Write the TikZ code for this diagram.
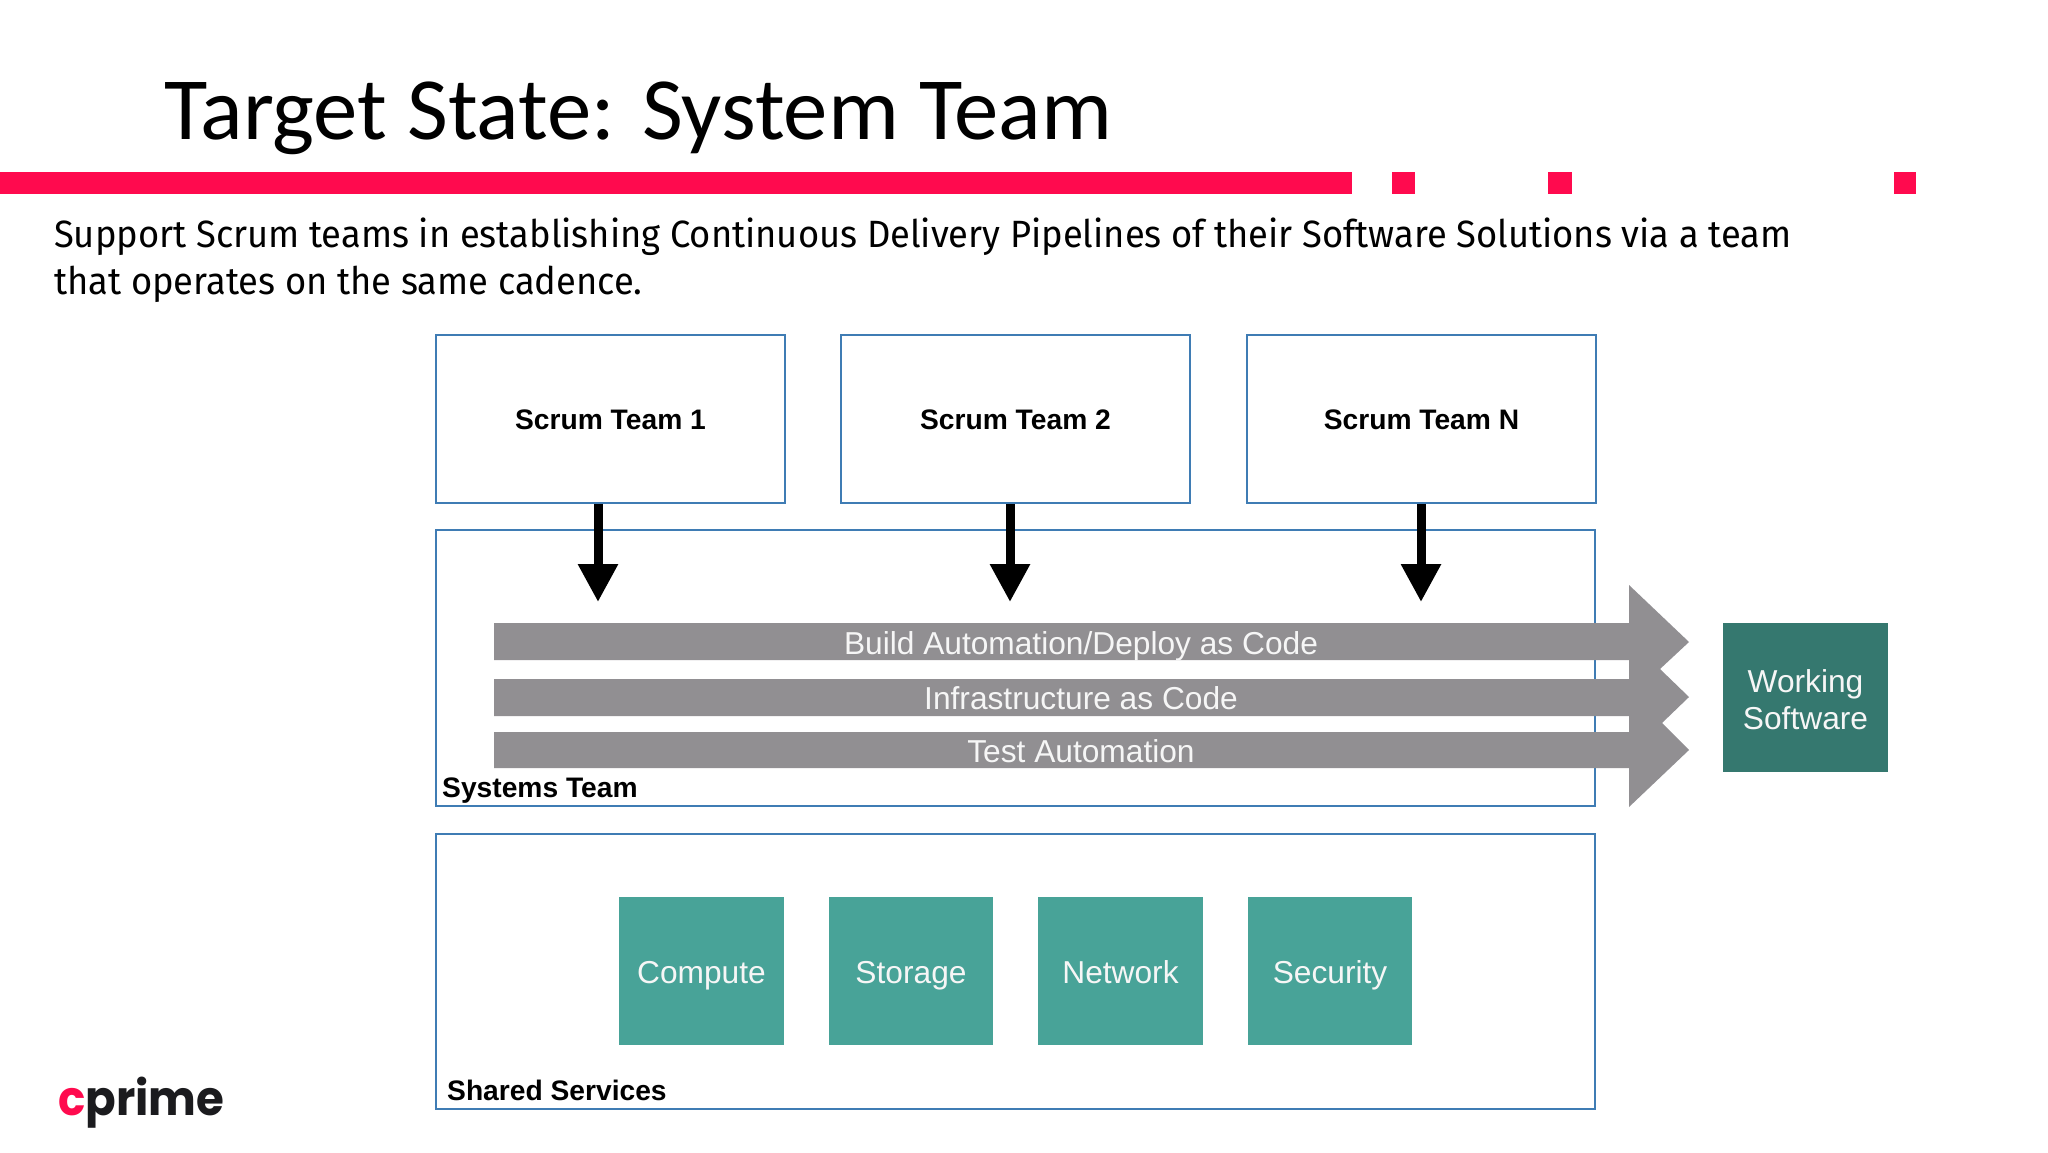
\documentclass[tikz,border=0pt]{standalone}
\usepackage{fontspec}
\usetikzlibrary{arrows.meta}
\setmainfont{Liberation Sans}
\newfontfamily\titlef{Carlito}
\newfontfamily\bodyf[FakeStretch=0.956]{Fira Sans}
\newfontfamily\logof[FakeStretch=0.94]{Poppins}
\definecolor{redbar}{HTML}{FF0A4E}
\definecolor{boxblue}{HTML}{3F7CB4}
\definecolor{arrowgray}{HTML}{918F92}
\definecolor{tealbox}{HTML}{48A398}
\definecolor{darkteal}{HTML}{35786F}
\definecolor{logoblack}{HTML}{1B1B1E}
\definecolor{labelwhite}{HTML}{F6F6F6}
\tikzset{
  teambox/.style={draw=boxblue,line width=1.8pt,fill=white,minimum width=349pt,minimum height=168pt,inner sep=0pt,font=\bfseries\fontsize{28.2}{32}\selectfont,text=black,text height=20pt,text depth=0pt},
  groupbox/.style={draw=boxblue,line width=1.8pt,fill=white,minimum width=1159pt,inner sep=0pt},
  servicebox/.style={fill=tealbox,text=labelwhite,minimum width=165pt,minimum height=148pt,inner sep=0pt,font=\fontsize{31.7}{36}\selectfont,text height=30pt,text depth=6pt},
  flowlabel/.style={anchor=base,text=labelwhite,inner sep=0pt,font=\fontsize{31.7}{36}\selectfont},
  grouplabel/.style={anchor=base west,text=black,inner sep=0pt,font=\bfseries\fontsize{28.2}{32}\selectfont},
  bodytext/.style={anchor=base west,inner sep=0pt,font=\bodyf\fontsize{38}{44}\selectfont,text=black},
  pushline/.style={line width=9pt,black,-{Triangle[length=38pt,width=38pt]}},
  redmark/.style={fill=redbar}
}
\begin{document}
\begin{tikzpicture}[x=1pt,y=-1pt]
\useasboundingbox (0,0) rectangle (2048,1152);
\fill[white] (0,0) rectangle (2048,1152);
\node[anchor=base west,inner sep=0pt,font=\titlef\fontsize{88.8}{90}\selectfont] (title) at (164,139) {Target State: System Team};
\fill[redmark] (0,172) rectangle (1352,194);
\fill[redmark] (1392,172) rectangle (1415,194);
\fill[redmark] (1548,172) rectangle (1572,194);
\fill[redmark] (1894,172) rectangle (1916,194);
\node[bodytext] (l1) at (54,247) {Support Scrum teams in establishing Continuous Delivery Pipelines of their Software Solutions via a team};
\node[bodytext] (l2) at (54,294) {that operates on the same cadence.};
\node[teambox] (s1) at (610.5,419) {Scrum Team 1};
\node[teambox] (s2) at (1015.5,419) {Scrum Team 2};
\node[teambox] (sn) at (1421.5,419) {Scrum Team N};
\node[groupbox,minimum height=276pt] (sys) at (1015.5,668) {};
\node[groupbox,minimum height=275pt] (shared) at (1015.5,971.5) {};
\coordinate (a1) at (598,602);
\coordinate (a2) at (1010,602);
\coordinate (a3) at (1421,602);
\draw[pushline] (s1.south -| a1) -- (a1);
\draw[pushline] (s2.south -| a2) -- (a2);
\draw[pushline] (sn.south -| a3) -- (a3);
\fill[arrowgray] (494,623) -- (1629,623) -- (1629,585) -- (1689,642) -- (1660,669) -- (1689,697) -- (1662,723) -- (1689,750) -- (1629,807) -- (1629,768) -- (494,768) -- (494,732) -- (1629,732) -- (1629,716) -- (494,716) -- (494,679) -- (1629,679) -- (1629,660) -- (494,660) -- cycle;
\node[flowlabel] (f1) at (1081,654) {Build Automation/Deploy as Code};
\node[flowlabel] (f2) at (1081,709) {Infrastructure as Code};
\node[flowlabel] (f3) at (1081,762) {Test Automation};
\node[grouplabel] (sysl) at (442,797) {Systems Team};
\node[servicebox,minimum height=149pt,fill=darkteal,text height=,text depth=] (ws) at (1805.5,697.5) {\raisebox{-12.5pt}[0pt][0pt]{\begin{tabular}{@{}c@{}}Working\\[1pt]Software\end{tabular}}};
\node[servicebox] (c1) at (701.5,971) {Compute};
\node[servicebox,minimum width=164pt] (c2) at (911,971) {Storage};
\node[servicebox] (c3) at (1120.5,971) {Network};
\node[servicebox,minimum width=164pt] (c4) at (1330,971) {Security};
\node[grouplabel] (shl) at (447,1100) {Shared Services};
\node[anchor=base west,inner sep=0pt,font=\logof\bfseries\fontsize{48}{60}\selectfont] (logo) at (58,1115) {\textcolor{redbar}{c}\textcolor{logoblack}{prime}};
\end{tikzpicture}
\end{document}
